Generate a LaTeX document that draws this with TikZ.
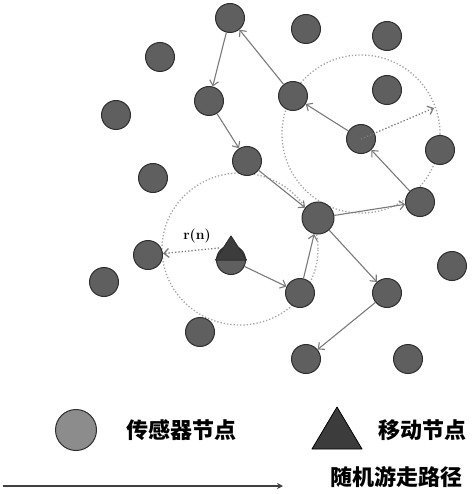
\documentclass[tikz,border=0pt]{standalone}
\usepackage{fontspec}
\newfontfamily\cjk{Noto Sans CJK SC}
\usetikzlibrary{arrows.meta}
\definecolor{nodefill}{HTML}{5F5F5F}
\definecolor{nodeedge}{HTML}{2E2E2E}
\definecolor{legfill}{HTML}{8C8C8C}
\definecolor{trifill}{HTML}{3C3C3C}
\definecolor{pathcol}{HTML}{7A7A7A}
\definecolor{dotcol}{HTML}{A5A5A5}
\begin{document}
\begin{tikzpicture}[x=1pt,y=-1pt,
  sensor/.style={circle, draw=nodeedge, line width=1pt, fill=nodefill, minimum size=29pt, inner sep=0pt},
  bigsensor/.style={sensor, minimum size=32pt},
  walk/.style={draw=pathcol, line width=1.1pt, -{Straight Barb[length=5pt,width=9pt]}},
  radiusarrow/.style={draw=dotcol!75!black, line width=1.3pt, dotted, -{Straight Barb[length=5pt,width=9pt]}},
  commrange/.style={draw=dotcol, line width=1.3pt, dotted},
  legtext/.style={anchor=west, font=\cjk\bfseries\fontsize{22pt}{26pt}\selectfont, inner sep=0pt}
]
\useasboundingbox (0,0) rectangle (474,494);

% communication ranges
\draw[commrange] (240,249) circle[x radius=78pt, y radius=76pt];
\draw[commrange] (361,134) circle[radius=79pt];

% sensor nodes
\node[sensor] (A) at (230,18) {};
\node[sensor] (B) at (306,29) {};
\node[sensor] (C) at (387,36) {};
\node[sensor] (D) at (160,57) {};
\node[sensor] (E) at (209,101) {};
\node[sensor] (F) at (293,96) {};
\node[sensor] (G) at (387,90) {};
\node[sensor] (H) at (116,115) {};
\node[sensor] (I) at (361,139) {};
\node[sensor] (J) at (440,150) {};
\node[sensor] (K) at (247,161) {};
\node[sensor] (L) at (153,178) {};
\node[sensor] (O) at (420,202) {};
\node[bigsensor] (N) at (318,218) {};
\node[sensor] (P) at (148,255) {};
\node[sensor] (Q) at (104,282) {};
\node[sensor] (R) at (452,266) {};
\node[sensor] (S) at (300,293) {};
\node[sensor] (T) at (387,293) {};
\node[sensor] (U) at (200,332) {};
\node[sensor] (V) at (306,359) {};
\node[sensor] (W) at (408,359) {};

% mobile node
\node[sensor] (mob) at (231,260) {};
\draw[draw=nodeedge, line width=1pt, fill=trifill, line join=round] (215.5,260) -- (231,236) -- (246.5,260) -- cycle;

% radius arrows
\coordinate (r1s) at (219,248);
\draw[radiusarrow] (r1s) -- (P);
\node[font=\bfseries\fontsize{14pt}{16pt}\selectfont, inner sep=0pt] (rn) at (197,236) {r(n)};
\coordinate (r2e) at (434,108);
\draw[radiusarrow] (I.center) -- (r2e);

% random walk path
\draw[walk] (mob) -- (S);
\draw[walk] (S) -- (N);
\draw[walk] (N) -- (O);
\draw[walk] (O) -- (I);
\draw[walk] (I) -- (F);
\draw[walk] (F) -- (A);
\draw[walk] (A) -- (E);
\draw[walk] (E) -- (K);
\draw[walk] (K) -- (N);
\draw[walk] (N) -- (T);
\draw[walk] (T) -- (V);

% legend
\node[circle, draw=nodeedge, line width=1pt, fill=legfill, minimum size=41pt, inner sep=0pt] (legc) at (76,430) {};
\node[legtext] (legct) at (126,430) {传感器节点};
\draw[draw=black, line width=0.8pt, fill=trifill, line join=round] (312,449) -- (337,407) -- (362,449) -- cycle;
\node[legtext] (legtt) at (378,430) {移动节点};
\coordinate (la) at (3,486);
\coordinate (lb) at (283,486);
\draw[draw=black!75, line width=1.1pt, -{Stealth[length=6pt,width=6pt]}] (la) -- (lb);
\node[legtext] (legat) at (330,477) {随机游走路径};
\end{tikzpicture}
\end{document}
